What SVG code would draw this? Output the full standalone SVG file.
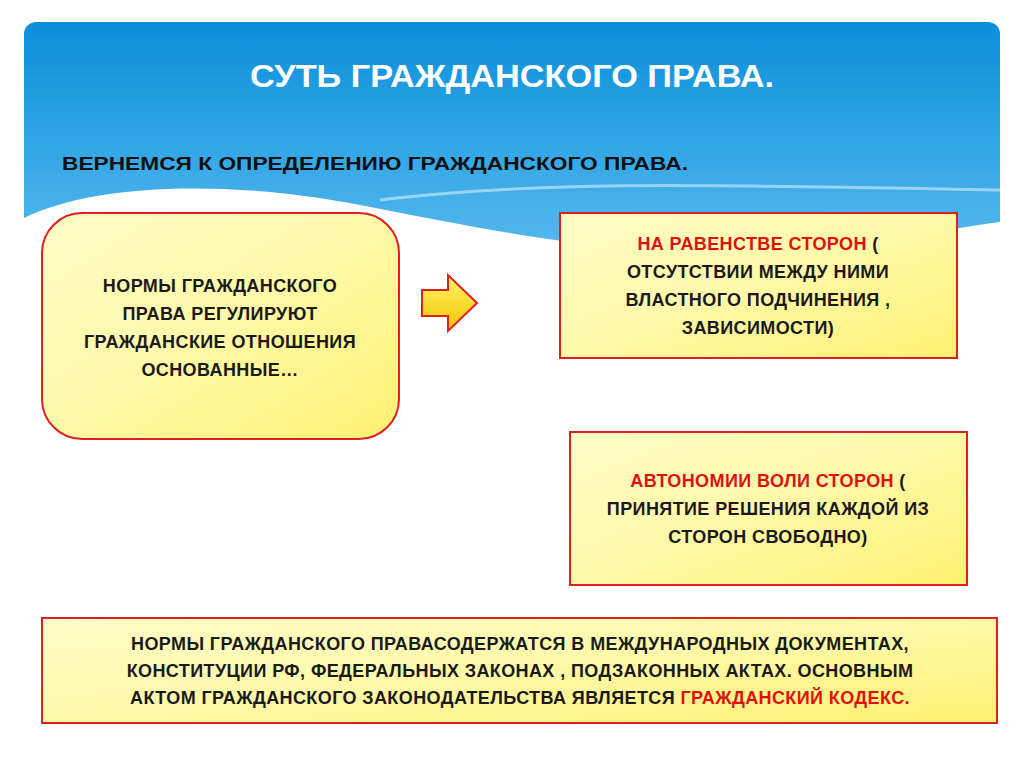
<svg xmlns="http://www.w3.org/2000/svg" width="1024" height="767" viewBox="0 0 1024 767">
<defs>
<linearGradient id="sky" x1="0" y1="0" x2="0" y2="1"><stop offset="0" stop-color="#0a8fdc"/><stop offset="1" stop-color="#6cc6f2"/></linearGradient>
<linearGradient id="yel" x1="0" y1="0" x2="1" y2="1"><stop offset="0" stop-color="#fdfbc8"/><stop offset="0.5" stop-color="#fff9a8"/><stop offset="1" stop-color="#fdf070"/></linearGradient>
<linearGradient id="arr" x1="0" y1="0" x2="0" y2="1"><stop offset="0" stop-color="#fff36a"/><stop offset="1" stop-color="#f5c400"/></linearGradient>
</defs>
<style>
.t{font-family:"Liberation Sans",Arial,sans-serif;font-weight:bold;font-size:18px;fill:#1a1a1a;text-anchor:middle;letter-spacing:0.4px}
.r{fill:#e01010}
.box{fill:url(#yel);stroke:#e02020;stroke-width:2}
</style>
<rect width="1024" height="767" fill="#fff"/>
<rect x="24" y="22" width="976" height="300" rx="12" fill="url(#sky)"/>
<path d="M24 218 C90 185 220 178 360 205 C500 232 620 258 760 252 C860 247 940 230 1000 222 L1000 330 L24 330 Z" fill="#fff"/>
<path d="M380 200 C540 180 720 185 1000 190" fill="none" stroke="#bfe6fa" stroke-width="3" opacity="0.7"/>
<g id="title"><text x="512" y="87" style="font-family:'Liberation Sans',Arial,sans-serif;font-size:31px;font-weight:bold;fill:#fff;text-anchor:middle" textLength="524" lengthAdjust="spacingAndGlyphs">СУТЬ ГРАЖДАНСКОГО ПРАВА.</text></g>
<g id="subtitle"><text x="62" y="170" style="font-family:'Liberation Sans',Arial,sans-serif;font-size:19px;font-weight:bold;fill:#111" textLength="626" lengthAdjust="spacingAndGlyphs">ВЕРНЕМСЯ  К ОПРЕДЕЛЕНИЮ  ГРАЖДАНСКОГО ПРАВА.</text></g>
<g id="n1"><rect class="box" x="42" y="213" width="357" height="226" rx="40"/>
<text class="t" x="220" y="292">НОРМЫ ГРАЖДАНСКОГО</text>
<text class="t" x="220" y="320">ПРАВА  РЕГУЛИРУЮТ</text>
<text class="t" x="220" y="348">ГРАЖДАНСКИЕ  ОТНОШЕНИЯ</text>
<text class="t" x="220" y="376">ОСНОВАННЫЕ…</text></g>
<g id="connectors"><path d="M422 290 L448 290 L448 275 L477 303 L448 331 L448 316 L422 316 Z" fill="url(#arr)" stroke="#e02020" stroke-width="2"/></g>
<g id="n2"><rect class="box" x="560" y="213" width="397" height="145"/>
<text class="t" x="758" y="250"><tspan class="r">НА  РАВЕНСТВЕ СТОРОН</tspan> (</text>
<text class="t" x="758" y="278">ОТСУТСТВИИ  МЕЖДУ НИМИ</text>
<text class="t" x="758" y="306">ВЛАСТНОГО ПОДЧИНЕНИЯ ,</text>
<text class="t" x="758" y="334">ЗАВИСИМОСТИ)</text></g>
<g id="n3"><rect class="box" x="570" y="432" width="397" height="153"/>
<text class="t" x="768" y="487"><tspan class="r">АВТОНОМИИ ВОЛИ СТОРОН</tspan> (</text>
<text class="t" x="768" y="515">ПРИНЯТИЕ РЕШЕНИЯ КАЖДОЙ ИЗ</text>
<text class="t" x="768" y="543">СТОРОН СВОБОДНО)</text></g>
<g id="n4"><rect class="box" x="42" y="618" width="955" height="105"/>
<text class="t" x="520" y="650">НОРМЫ ГРАЖДАНСКОГО ПРАВАСОДЕРЖАТСЯ  В МЕЖДУНАРОДНЫХ  ДОКУМЕНТАХ,</text>
<text class="t" x="520" y="677">КОНСТИТУЦИИ РФ, ФЕДЕРАЛЬНЫХ ЗАКОНАХ , ПОДЗАКОННЫХ  АКТАХ. ОСНОВНЫМ</text>
<text class="t" x="520" y="704">АКТОМ ГРАЖДАНСКОГО ЗАКОНОДАТЕЛЬСТВА ЯВЛЯЕТСЯ  <tspan class="r">ГРАЖДАНСКИЙ КОДЕКС.</tspan></text></g>
</svg>
